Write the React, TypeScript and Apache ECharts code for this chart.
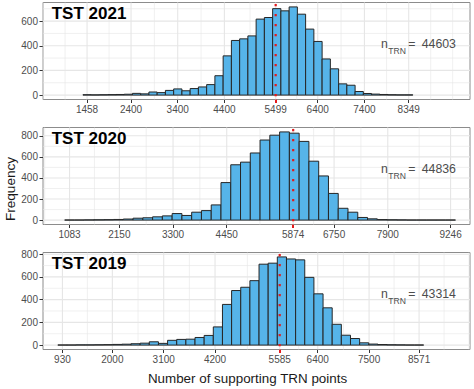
import React, { useEffect, useRef } from "react";
import * as echarts from "echarts";

const panelTitles = ["TST 2021", "TST 2020", "TST 2019"];
const counts2021 = [3, 2, 3, 4, 5, 7, 14, 10, 25, 20, 38, 50, 35, 53, 66, 85, 157, 318, 443, 456, 480, 616, 629, 701, 683, 715, 656, 535, 435, 293, 213, 91, 80, 29, 13, 8, 5, 3, 2, 2];
const counts2020 = [1, 1, 2, 3, 4, 6, 10, 18, 22, 31, 40, 62, 44, 75, 90, 144, 356, 525, 550, 637, 760, 806, 837, 825, 747, 559, 419, 253, 112, 75, 25, 12, 5, 3, 2, 1, 1, 1, 1, 1];
const counts2019 = [1, 1, 2, 2, 3, 4, 6, 8, 12, 17, 29, 15, 42, 50, 52, 67, 85, 160, 358, 480, 509, 567, 712, 721, 776, 758, 750, 596, 451, 328, 183, 87, 58, 20, 9, 5, 3, 2, 1, 1];
const xTicks2021 = [1458, 2400, 3400, 4400, 5499, 6400, 7400, 8349];
const xTicks2020 = [1083, 2150, 3300, 4450, 5874, 6750, 7900, 9246];
const xTicks2019 = [930, 2000, 3100, 4200, 5585, 6400, 7500, 8571];
const yTicks2021 = [0, 200, 400, 600];
const yTicks2020 = [0, 200, 400, 600, 800];
const yTicks2019 = [0, 200, 400, 600, 800];
const medians = [5499, 5874, 5585];
const nTRN = ["44603", "44836", "43314"];
const xLimits = [514, 9662];

const FONT = '"Liberation Sans", Arial, Helvetica, sans-serif';

function minorBreaks(b: number[], lo: number, hi: number) {
  const bd = b[1] - b[0];
  let e = [...b];
  if (lo < e[0]) e = [e[0] - bd, ...e];
  if (hi > e[e.length - 1]) e = [...e, e[e.length - 1] + bd];
  const out: number[] = [];
  for (let i = 0; i < e.length - 1; i++) out.push(e[i], (e[i] + e[i + 1]) / 2);
  out.push(e[e.length - 1]);
  return out.filter((v) => v >= lo && v <= hi && !b.includes(v));
}

function buildOption() {
  const panels = [
    { counts: counts2021, xTicks: xTicks2021, yTicks: yTicks2021 },
    { counts: counts2020, xTicks: xTicks2020, yTicks: yTicks2020 },
    { counts: counts2019, xTicks: xTicks2019, yTicks: yTicks2019 },
  ];
  const grid: any[] = [];
  const xAxis: any[] = [];
  const yAxis: any[] = [];
  const series: any[] = [];
  const graphic: any[] = [];
  const fmt = (v: number) => String(v);

  panels.forEach((p, i) => {
    const top = 2.5 + 125 * i;
    grid.push({ left: 43, right: 4, top, height: 97, show: true, borderColor: "#8c8c8c", borderWidth: 1, backgroundColor: "#fff" });
    const ymax = Math.max(...p.counts);
    const yLo = -0.05 * ymax;
    const yHi = 1.05 * ymax;
    const common = { type: "value", gridIndex: i, min: xLimits[0], max: xLimits[1], position: "bottom", splitLine: { show: false } };
    xAxis.push({
      ...common,
      axisLine: { show: false, onZero: false },
      axisTick: { show: true, customValues: p.xTicks, length: 3.5, lineStyle: { color: "#333", width: 1 } },
      axisLabel: { customValues: p.xTicks, formatter: fmt, color: "#4d4d4d", fontSize: 10, fontFamily: FONT, margin: 5 },
    });
    xAxis.push({
      ...common,
      axisLine: { show: false, onZero: false },
      axisLabel: { show: false },
      axisTick: { show: true, customValues: [medians[i]], length: 3.5, lineStyle: { color: "#e41a1c", width: 2 } },
    });
    yAxis.push({
      type: "value", gridIndex: i, min: yLo, max: yHi,
      axisLine: { show: false, onZero: false }, splitLine: { show: false },
      axisTick: { show: true, customValues: p.yTicks, length: 3.5, lineStyle: { color: "#333", width: 1 } },
      axisLabel: { customValues: p.yTicks, formatter: fmt, color: "#4d4d4d", fontSize: 10, fontFamily: FONT, margin: 5 },
    });

    const gridData: number[][] = [];
    p.xTicks.forEach((v) => gridData.push([v, 0, 0]));
    minorBreaks(p.xTicks, xLimits[0], xLimits[1]).forEach((v) => gridData.push([v, 0, 1]));
    p.yTicks.forEach((v) => gridData.push([v, 1, 0]));
    minorBreaks(p.yTicks, yLo, yHi).forEach((v) => gridData.push([v, 1, 1]));

    series.push({
      type: "custom", xAxisIndex: 2 * i, yAxisIndex: i, z: 1, silent: true,
      data: gridData,
      encode: { x: 0 },
      renderItem: (params: any, api: any) => {
        const cs = params.coordSys;
        const v = api.value(0), dir = api.value(1), minor = api.value(2);
        const style = { stroke: "#e6e6e6", lineWidth: minor ? 0.6 : 1.1 };
        if (dir === 0) {
          const x = api.coord([v, 0])[0];
          return { type: "line", shape: { x1: x, y1: cs.y, x2: x, y2: cs.y + cs.height }, style };
        }
        const y = api.coord([xLimits[0], v])[1];
        return { type: "line", shape: { x1: cs.x, y1: y, x2: cs.x + cs.width, y2: y }, style };
      },
    });

    const lo = p.xTicks[0];
    const hi = p.xTicks[p.xTicks.length - 1];
    const w = (hi - lo) / (p.counts.length - 1);
    const bins = p.counts.map((c, k) => [lo + (k - 0.5) * w, lo + (k + 0.5) * w, c]);
    series.push({
      type: "custom", xAxisIndex: 2 * i, yAxisIndex: i, z: 2, silent: true,
      data: bins,
      encode: { x: [0, 1], y: 2 },
      renderItem: (params: any, api: any) => {
        const p0 = api.coord([api.value(0), api.value(2)]);
        const p1 = api.coord([api.value(1), 0]);
        return {
          type: "rect",
          shape: { x: p0[0], y: p0[1], width: p1[0] - p0[0], height: p1[1] - p0[1] },
          style: { fill: "#56B4E9", stroke: "#262626", lineWidth: 1 },
        };
      },
    });

    series.push({
      type: "custom", xAxisIndex: 2 * i, yAxisIndex: i, z: 3, silent: true,
      data: [[medians[i]]],
      encode: { x: 0 },
      renderItem: (params: any, api: any) => {
        const cs = params.coordSys;
        const x = api.coord([api.value(0), 0])[0];
        return {
          type: "line",
          shape: { x1: x, y1: cs.y + 1.5, x2: x, y2: cs.y + cs.height },
          style: { stroke: "#e41a1c", lineWidth: 2.2, lineDash: [2.2, 7.8] },
        };
      },
    });

    const tz = { z: 100, zlevel: 0 };
    graphic.push({ type: "text", ...tz, x: 51.7, y: top + 11.4, style: { text: panelTitles[i], font: `bold 17px ${FONT}`, fill: "#000", align: "left", verticalAlign: "middle" } });
    graphic.push({ type: "text", ...tz, x: 381, y: top + 41.5, style: { text: "n", font: `12.3px ${FONT}`, fill: "#4d4d4d", align: "left", verticalAlign: "middle" } });
    graphic.push({ type: "text", ...tz, x: 388.3, y: top + 48.5, style: { text: "TRN", font: `8.6px ${FONT}`, fill: "#4d4d4d", align: "left", verticalAlign: "middle" } });
    graphic.push({ type: "text", ...tz, x: 408.3, y: top + 41.5, style: { text: "=", font: `12.3px ${FONT}`, fill: "#4d4d4d", align: "left", verticalAlign: "middle" } });
    graphic.push({ type: "text", ...tz, x: 421.7, y: top + 41.5, style: { text: nTRN[i], font: `12.3px ${FONT}`, fill: "#4d4d4d", align: "left", verticalAlign: "middle" } });
  });

  graphic.push({ type: "text", z: 100, x: 247.5, y: 378.4, style: { text: "Number of supporting TRN points", font: `13.4px ${FONT}`, fill: "#1a1a1a", align: "center", verticalAlign: "middle" } });
  graphic.push({ type: "text", z: 100, x: 10.5, y: 189, rotation: Math.PI / 2, style: { text: "Frequency", font: `13.6px ${FONT}`, fill: "#1a1a1a", align: "center", verticalAlign: "middle" } });

  return { animation: false, backgroundColor: "#fff", grid, xAxis, yAxis, series, graphic };
}

export default function App() {
  const ref = useRef<HTMLDivElement>(null);
  useEffect(() => {
    const chart = echarts.init(ref.current!, null, { renderer: "svg" });
    chart.setOption(buildOption() as any);
    return () => chart.dispose();
  }, []);
  return <div ref={ref} style={{ width: 474, height: 389, position: "absolute", left: 0, top: 0 }} />;
}
